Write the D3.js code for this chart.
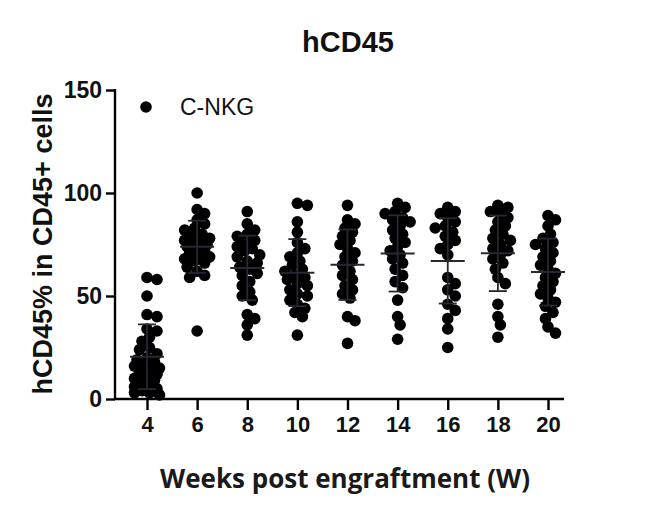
<!DOCTYPE html>
<html><head><meta charset="utf-8">
<script src="https://cdn.jsdelivr.net/npm/d3@7"></script>
<style>body{margin:0;background:#fff}</style>
</head><body><svg id="c" width="654" height="524"></svg>
<script>
const weeks = ["4","6","8","10","12","14","16","18","20"];
const w4  = [59, 58, 50, 41, 40, 34, 33, 30, 28, 25, 24, 22, 20, 19, 18, 17, 16, 15, 14, 13, 12, 11, 10, 9, 8, 7, 6, 5, 4, 3, 3, 2];
const w6  = [100, 92, 90, 87, 85, 83, 82, 80, 79, 78, 77, 76, 76, 75, 74, 73, 72, 71, 70, 69, 68, 67, 66, 64, 62, 60, 59, 33];
const w8  = [91, 85, 82, 80, 79, 77, 76, 74, 73, 72, 70, 69, 67, 66, 64, 63, 61, 60, 57, 55, 52, 50, 48, 41, 39, 36, 31];
const w10 = [95, 94, 86, 81, 76, 73, 71, 69, 67, 65, 63, 62, 60, 59, 58, 56, 55, 53, 51, 50, 48, 46, 44, 42, 40, 31];
const w12 = [94, 87, 85, 83, 81, 79, 77, 75, 73, 71, 69, 67, 65, 62, 60, 58, 55, 53, 51, 49, 40, 38, 27];
const w14 = [95, 93, 91, 90, 88, 87, 86, 84, 82, 80, 78, 76, 74, 72, 70, 68, 66, 63, 60, 57, 54, 48, 40, 36, 29];
const w16 = [93, 91, 90, 88, 86, 84, 83, 81, 79, 77, 75, 73, 70, 59, 56, 53, 50, 46, 43, 39, 34, 25];
const w18 = [94, 93, 91, 90, 88, 86, 84, 82, 80, 78, 77, 75, 73, 72, 70, 68, 66, 63, 59, 56, 46, 40, 36, 30];
const w20 = [89, 87, 84, 80, 78, 76, 75, 73, 71, 69, 67, 65, 63, 61, 59, 57, 55, 53, 51, 49, 47, 45, 42, 39, 35, 32];
const yTicks = [0, 50, 100, 150];
const seriesName = "C-NKG";
const groups = [w4, w6, w8, w10, w12, w14, w16, w18, w20];

const svg = d3.select("#c");
const x = d3.scalePoint().domain(weeks).range([147, 548]);
const y = d3.scaleLinear().domain([0, 150]).range([399, 90]);
const R = 5.8;
const FONT = "Liberation Sans, Arial, sans-serif";

// axes lines
svg.append("line").attr("x1",115).attr("x2",115).attr("y1",89).attr("y2",400).attr("stroke","#000").attr("stroke-width",2.4);
svg.append("line").attr("x1",114).attr("x2",564).attr("y1",399).attr("y2",399).attr("stroke","#000").attr("stroke-width",2.4);

const yAxis = svg.append("g").attr("transform","translate(115,0)")
  .call(d3.axisLeft(y).tickValues(yTicks).tickSize(9).tickPadding(4));
yAxis.select(".domain").remove();
yAxis.selectAll("line").attr("stroke","#000").attr("stroke-width",2.4);
yAxis.selectAll("text").attr("font-family",FONT).attr("font-weight","bold").attr("font-size",23).attr("fill","#111");

const xAxis = svg.append("g").attr("transform","translate(0,399)")
  .call(d3.axisBottom(x).tickSize(11).tickPadding(6));
xAxis.select(".domain").remove();
xAxis.selectAll("line").attr("stroke","#000").attr("stroke-width",2.4);
xAxis.selectAll("text").attr("font-family",FONT).attr("font-weight","bold").attr("font-size",22).attr("fill","#111");

// beeswarm dodge (compact, allows overlap)
function swarm(vals, cx) {
  const pts = vals.map(v => ({v, y: y(v)})).sort((a,b)=>a.y-b.y);
  const placed = [];
  const minD = R*1.45;
  const cands = [0];
  for (let k=1;k<=5;k++){cands.push(k*2.5);cands.push(-k*2.5);}
  for (const p of pts) {
    let best = null, bestScore = -1;
    for (const dx of cands) {
      const d = placed.length ? d3.min(placed, q => Math.hypot(q.x-(cx+dx), q.y-p.y)) : 1e9;
      if (d >= minD) { best = dx; break; }
      if (d > bestScore) { bestScore = d; best = dx; }
    }
    p.x = cx + best;
    placed.push(p);
  }
  return placed;
}

groups.forEach((vals, i) => {
  const cx = x(weeks[i]);
  const g = svg.append("g");
  swarm(vals, cx).forEach(p => {
    g.append("circle").attr("cx",p.x).attr("cy",p.y).attr("r",R).attr("fill","#000");
  });
  const m = d3.mean(vals), sd = d3.deviation(vals);
  const lc = "#2a2633";
  svg.append("line").attr("x1",cx).attr("x2",cx).attr("y1",y(m+sd)).attr("y2",y(m-sd)).attr("stroke",lc).attr("stroke-width",1.8);
  svg.append("line").attr("x1",cx-17).attr("x2",cx+17).attr("y1",y(m)).attr("y2",y(m)).attr("stroke",lc).attr("stroke-width",2);
  [m+sd, m-sd].forEach(v => {
    svg.append("line").attr("x1",cx-9).attr("x2",cx+9).attr("y1",y(v)).attr("y2",y(v)).attr("stroke",lc).attr("stroke-width",1.8);
  });
});

// legend
svg.append("circle").attr("cx",146).attr("cy",107).attr("r",R).attr("fill","#000");
svg.append("text").attr("x",180).attr("y",115).text(seriesName)
  .attr("font-family",FONT).attr("font-size",23).attr("fill","#111");

// title
svg.append("text").attr("x",348).attr("y",52).attr("text-anchor","middle").text("hCD45")
  .attr("font-family",FONT).attr("font-weight","bold").attr("font-size",29).attr("fill","#111");

// y label
svg.append("text").attr("transform","translate(52,244) rotate(-90)").attr("text-anchor","middle")
  .text("hCD45% in CD45+ cells")
  .attr("font-family",FONT).attr("font-weight","bold").attr("font-size",27).attr("fill","#111");

// x label
svg.append("text").attr("x",345).attr("y",488).attr("text-anchor","middle")
  .text("Weeks post engraftment (W)")
  .attr("font-family","Open Sans, sans-serif").attr("font-weight","bold").attr("font-size",26).attr("fill","#1a1a1a");
</script>
</body></html>
